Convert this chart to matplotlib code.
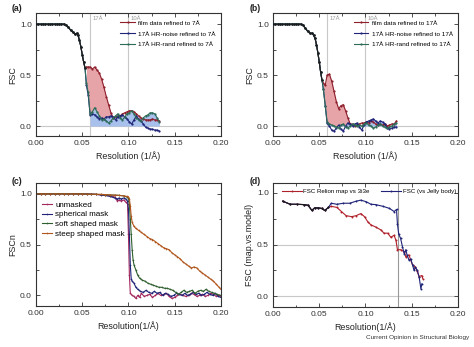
import numpy as np
import matplotlib
matplotlib.use("Agg")
import matplotlib.pyplot as plt
from matplotlib.ticker import MultipleLocator, FormatStrFormatter

plt.rcParams['font.family'] = ['Liberation Sans', 'DejaVu Sans']

# ---------------- Panel (a) / (b) data ----------------
common_x_a = [0.0, 0.0025, 0.005, 0.0075, 0.01, 0.0125, 0.015, 0.0175, 0.02, 0.0225, 0.025, 0.0275, 0.03,
              0.0325, 0.035, 0.0375, 0.04, 0.0425, 0.044, 0.0455, 0.047, 0.0485, 0.05, 0.0515, 0.053]
common_y_a = [1.0, 1.0, 1.0, 1.0, 1.0, 1.0, 1.0, 1.0, 1.0, 1.0, 1.0, 1.0, 1.0,
              0.99, 0.97, 0.94, 0.92, 0.90, 0.91, 0.89, 0.84, 0.78, 0.70, 0.63, 0.57]
common_y_b = [1.0, 1.0, 1.0, 1.0, 1.0, 1.0, 1.0, 1.0, 1.0, 1.0, 1.0, 1.0, 1.0,
              0.99, 0.96, 0.93, 0.91, 0.91, 0.89, 0.86, 0.80, 0.72, 0.63, 0.53, 0.45]

tail_x = [0.0545, 0.0565, 0.0585, 0.061, 0.0635, 0.066, 0.0685, 0.071, 0.0735, 0.076, 0.0785, 0.081,
          0.0835, 0.086, 0.0885, 0.091, 0.0935, 0.096, 0.0985, 0.101, 0.1035, 0.106, 0.1085, 0.111,
          0.1135, 0.116, 0.1185, 0.121, 0.1235, 0.126, 0.1285, 0.131, 0.1335]

film_a = [0.58, 0.58, 0.58, 0.56, 0.58, 0.55, 0.52, 0.46, 0.38, 0.29, 0.21, 0.13, 0.08, 0.09, 0.10, 0.10,
          0.12, 0.13, 0.14, 0.15, 0.15, 0.14, 0.12, 0.10, 0.08, 0.07, 0.06, 0.06, 0.06, 0.07, 0.06, 0.06, 0.05]
noise_a = [0.40, 0.30, 0.11, 0.12, 0.11, 0.09, 0.07, 0.08, 0.07, 0.09, 0.09, 0.10, 0.09, 0.06, 0.09, 0.10,
           0.11, 0.09, 0.07, 0.04, 0.02, 0.06, 0.10, 0.07, 0.05, 0.02, -0.01, -0.02, -0.03, -0.03, -0.04, -0.04, -0.05]
rand_a = [0.42, 0.33, 0.12, 0.14, 0.18, 0.14, 0.10, 0.06, 0.07, 0.05, 0.03, 0.05, 0.08, 0.10, 0.12, 0.08,
          0.06, 0.09, 0.12, 0.13, 0.15, 0.12, 0.08, 0.06, 0.05, 0.08, 0.10, 0.11, 0.13, 0.13, 0.12, 0.08, 0.04]

film_b = [0.42, 0.40, 0.50, 0.51, 0.44, 0.34, 0.24, 0.17, 0.20, 0.21, 0.15, 0.08, 0.02, 0.02, 0.00, 0.01,
          0.02, 0.03, 0.03, 0.04, 0.03, 0.05, 0.04, 0.02, 0.01, 0.02, 0.01, 0.02, 0.00, 0.01, 0.02, 0.02, 0.05]
noise_b = [0.36, 0.20, 0.03, 0.00, -0.04, -0.05, -0.02, 0.01, -0.03, -0.05, 0.00, 0.03, 0.02, 0.00, 0.02, 0.03,
           -0.01, -0.04, 0.01, 0.04, 0.05, 0.06, 0.07, 0.05, 0.03, 0.05, 0.04, 0.02, -0.02, -0.03, -0.02, -0.01, -0.01]
rand_b = [0.36, 0.20, 0.04, 0.02, 0.01, 0.00, -0.01, -0.02, 0.01, 0.02, -0.01, -0.02, 0.00, 0.02, 0.01, 0.00,
          0.01, 0.00, 0.02, 0.03, 0.01, 0.00, -0.02, -0.01, 0.01, 0.02, 0.00, -0.01, -0.02, -0.01, 0.00, 0.02, 0.03]

labels_a = ["film data refined to 7Å", "17Å HR-noise refined to 7Å", "17Å HR-rand refined to 7Å"]
labels_b = ["film data refined to 17Å", "17Å HR-noise refined to 17Å", "17Å HR-rand refined to 17Å"]

# ---------------- Panel (c) data ----------------
pre_x_c = [0.0, 0.005, 0.01, 0.015, 0.02, 0.025, 0.03, 0.035, 0.04, 0.045, 0.05, 0.055, 0.06]
pre_y_c = [1.0, 1.0, 1.0, 1.0, 1.0, 1.0, 1.0, 1.0, 1.0, 1.0, 1.0, 0.998, 0.997]

steep_x = [0.065, 0.07, 0.075, 0.08, 0.085, 0.09, 0.095, 0.098, 0.1, 0.101, 0.102, 0.103, 0.104, 0.106, 0.108,
           0.111, 0.114, 0.117, 0.12, 0.123, 0.126, 0.129, 0.132, 0.135, 0.138, 0.141, 0.144, 0.147, 0.15,
           0.153, 0.156, 0.159, 0.162, 0.165, 0.168, 0.171, 0.174, 0.177, 0.18, 0.183, 0.186, 0.189, 0.192,
           0.195, 0.198, 0.2]
steep_y = [0.996, 0.995, 0.993, 0.99, 0.988, 0.985, 0.98, 0.975, 0.97, 0.95, 0.88, 0.78, 0.72, 0.68, 0.66,
           0.64, 0.62, 0.60, 0.58, 0.56, 0.55, 0.53, 0.51, 0.49, 0.47, 0.46, 0.45, 0.42, 0.40,
           0.38, 0.36, 0.33, 0.31, 0.29, 0.27, 0.28, 0.27, 0.24, 0.22, 0.20, 0.18, 0.16, 0.14,
           0.11, 0.08, 0.06]

soft_x = [0.065, 0.07, 0.075, 0.08, 0.085, 0.09, 0.095, 0.098, 0.1, 0.101, 0.102, 0.103, 0.104, 0.105, 0.106,
          0.108, 0.11, 0.112, 0.115, 0.118, 0.121, 0.124, 0.127, 0.13, 0.133, 0.136, 0.139, 0.142, 0.145,
          0.148, 0.151, 0.154, 0.157, 0.16, 0.163, 0.166, 0.169, 0.172, 0.175, 0.178, 0.181, 0.184, 0.187,
          0.19, 0.193, 0.196, 0.2]
soft_y = [0.995, 0.994, 0.992, 0.99, 0.987, 0.985, 0.98, 0.97, 0.96, 0.90, 0.75, 0.60, 0.45, 0.35, 0.30,
          0.25, 0.20, 0.17, 0.15, 0.14, 0.12, 0.11, 0.10, 0.09, 0.08, 0.08, 0.07, 0.07, 0.06,
          0.05, 0.03, 0.01, 0.03, 0.05, 0.03, 0.04, 0.05, 0.02, 0.04, 0.05, 0.04, 0.06, 0.04,
          0.03, 0.02, 0.01, 0.00]

sph_x = [0.065, 0.07, 0.075, 0.08, 0.085, 0.088, 0.09, 0.092, 0.095, 0.097, 0.099, 0.1, 0.101, 0.102, 0.103,
         0.104, 0.106, 0.108, 0.11, 0.113, 0.116, 0.119, 0.122, 0.125, 0.128, 0.131, 0.134, 0.137, 0.14,
         0.143, 0.146, 0.149, 0.152, 0.155, 0.158, 0.161, 0.164, 0.167, 0.17, 0.173, 0.176, 0.179, 0.182,
         0.185, 0.188, 0.191, 0.194, 0.197, 0.2]
sph_y = [0.995, 0.99, 0.985, 0.975, 0.96, 0.95, 0.96, 0.95, 0.96, 0.95, 0.93, 0.85, 0.60, 0.30, 0.16,
         0.14, 0.12, 0.08, 0.06, 0.04, 0.03, 0.05, 0.03, 0.02, 0.04, 0.02, 0.03, 0.00, 0.02,
         0.01, -0.01, 0.00, 0.02, 0.01, 0.00, 0.02, 0.00, 0.01, 0.03, 0.01, 0.02, 0.00, 0.01,
         0.03, 0.01, 0.00, 0.02, -0.01, -0.02]

unm_x = [0.065, 0.07, 0.075, 0.08, 0.085, 0.088, 0.09, 0.092, 0.095, 0.097, 0.099, 0.1, 0.101, 0.102, 0.104,
         0.106, 0.108, 0.11, 0.112, 0.114, 0.117, 0.12, 0.123, 0.126, 0.129, 0.132, 0.135, 0.138, 0.141,
         0.144, 0.147, 0.15, 0.153, 0.156, 0.159, 0.162, 0.165, 0.168, 0.171, 0.174, 0.177, 0.18, 0.183,
         0.186, 0.189, 0.192, 0.195, 0.198, 0.2]
unm_y = [0.995, 0.99, 0.985, 0.98, 0.97, 0.93, 0.94, 0.93, 0.94, 0.92, 0.90, 0.60, 0.20, 0.02, 0.00,
         -0.01, -0.03, 0.00, -0.02, 0.02, -0.01, 0.00, 0.01, -0.02, 0.00, 0.02, 0.00, 0.01, 0.02,
         -0.01, -0.03, -0.02, 0.00, 0.01, 0.00, -0.01, 0.00, 0.02, 0.01, -0.01, 0.00, 0.01, -0.01,
         0.00, 0.02, 0.01, -0.01, 0.00, -0.01]

labels_c = ["unmasked", "spherical mask", "soft shaped mask", "steep shaped mask"]

# ---------------- Panel (d) data ----------------
common_x_d = [0.0104, 0.0186, 0.0257, 0.033, 0.038, 0.042, 0.045, 0.049, 0.0525, 0.056, 0.06]
common_y_d = [0.92, 0.89, 0.89, 0.887, 0.88, 0.83, 0.855, 0.855, 0.85, 0.83, 0.86]

jelly_x = [0.063, 0.069, 0.076, 0.083, 0.09, 0.095, 0.1007, 0.106, 0.111, 0.119, 0.126, 0.131, 0.1336,
           0.1346, 0.136, 0.138, 0.14, 0.142, 0.1436, 0.145, 0.147, 0.149, 0.151, 0.1525, 0.154, 0.156,
           0.158, 0.16, 0.161]
jelly_y = [0.90, 0.89, 0.90, 0.90, 0.92, 0.93, 0.915, 0.89, 0.887, 0.87, 0.85, 0.82, 0.84,
           0.70, 0.60, 0.56, 0.48, 0.41, 0.45, 0.40, 0.35, 0.36, 0.30, 0.25, 0.28, 0.25,
           0.19, 0.07, 0.12]

relion_x = [0.063, 0.069, 0.074, 0.079, 0.085, 0.09, 0.095, 0.099, 0.1025, 0.106, 0.111, 0.117, 0.12,
            0.124, 0.1275, 0.131, 0.133, 0.1346, 0.138, 0.142, 0.1436, 0.147, 0.151, 0.154, 0.156,
            0.158, 0.161, 0.162]
relion_y = [0.87, 0.86, 0.82, 0.78, 0.77, 0.78, 0.80, 0.77, 0.72, 0.69, 0.67, 0.64, 0.61,
            0.61, 0.57, 0.59, 0.54, 0.45, 0.45, 0.43, 0.38, 0.40, 0.30, 0.28, 0.24,
            0.19, 0.20, 0.17]

labels_d = ["FSC Relion map vs 3i3e", "FSC (vs Jelly body)"]

# ---------------- styling ----------------
C_RED = '#8e1f2c'
C_NAVY = '#1f2478'
C_TEAL = '#2c6b58'
C_MAG = '#a3285e'
C_GREEN = '#2f5e2f'
C_ORANGE = '#b0551c'
C_BLACK = '#1c1c1c'
PINK = '#e7a4a8'
LBLUE = '#a7c0ec'
GRID = '#c8c8c8'

TICK_FS = 6.0
LAB_FS = 6.4
LW = 0.8
MS = 1.6

fig = plt.figure(figsize=(4.74, 3.47), dpi=100)
ax_a = fig.add_axes([0.076, 0.608, 0.390, 0.354])
ax_b = fig.add_axes([0.576, 0.608, 0.390, 0.354])
ax_c = fig.add_axes([0.076, 0.118, 0.390, 0.354])
ax_d = fig.add_axes([0.576, 0.115, 0.390, 0.357])


def style(ax, ylabel, xlabel, ylim):
    ax.set_xlim(0, 0.2)
    ax.set_ylim(*ylim)
    ax.xaxis.set_major_locator(MultipleLocator(0.05))
    ax.xaxis.set_minor_locator(MultipleLocator(0.025))
    ax.yaxis.set_major_locator(MultipleLocator(0.5))
    ax.yaxis.set_minor_locator(MultipleLocator(0.25))
    ax.xaxis.set_major_formatter(FormatStrFormatter('%.2f'))
    ax.yaxis.set_major_formatter(FormatStrFormatter('%.1f'))
    ax.tick_params(which='both', direction='in', top=True, right=True, labelsize=TICK_FS,
                   colors='#333333', width=0.6, pad=3)
    ax.tick_params(which='major', length=3)
    ax.tick_params(which='minor', length=1.8)
    for s in ax.spines.values():
        s.set_linewidth(0.8)
        s.set_color('#333333')
    ax.set_xlabel(xlabel, fontsize=LAB_FS, labelpad=3, color='#222222')
    ax.set_ylabel(ylabel, fontsize=LAB_FS, labelpad=2, color='#222222')


def plot_ab(ax, cy, film, noise, rand, labels, redmax):
    cx = np.array(common_x_a)
    cy = np.array(cy)
    tx = np.array(tail_x)
    film = np.array(film); noise = np.array(noise); rand = np.array(rand)
    lower = np.maximum(noise, rand)
    ax.axhline(0, color=GRID, lw=0.8, zorder=0)
    ax.axvline(1 / 17, color=GRID, lw=0.8, zorder=0)
    ax.axvline(0.1, color=GRID, lw=0.8, zorder=0)
    ax.text(1 / 17 + 0.002, 1.055, "17Å", fontsize=4.2, color='#999999', va='center')
    ax.text(0.1 + 0.002, 1.055, "10Å", fontsize=4.2, color='#999999', va='center')
    sel = tx >= 0.058
    ax.fill_between(tx[sel], 0, np.clip(lower[sel], 0, None), color=LBLUE, lw=0, zorder=1)
    selr = tx <= redmax
    ax.fill_between(tx[selr], lower[selr], film[selr], where=film[selr] > lower[selr],
                    interpolate=True, color=PINK, lw=0, zorder=1)
    kw = dict(lw=LW, marker='o', ms=MS, mew=0, zorder=3)
    ax.plot(np.r_[cx, tx], np.r_[cy, film], color=C_RED, label=labels[0], **kw)
    ax.plot(np.r_[cx, tx], np.r_[cy, noise], color=C_NAVY, label=labels[1], **kw)
    ax.plot(np.r_[cx, tx], np.r_[cy, rand], color=C_TEAL, label=labels[2], **kw)
    ax.plot(cx, cy, color=C_BLACK, lw=LW, marker='o', ms=MS, mew=0, zorder=4)
    ax.legend(loc='upper right', bbox_to_anchor=(1.0, 0.985), fontsize=4.6, frameon=False,
              handlelength=2.3, handletextpad=0.5, labelspacing=0.85, borderaxespad=0.4)
    style(ax, 'FSC', 'Resolution (1/Å)', (-0.098, 1.108))


plot_ab(ax_a, common_y_a, film_a, noise_a, rand_a, labels_a, 0.0865)
plot_ab(ax_b, common_y_b, film_b, noise_b, rand_b, labels_b, 0.0865)

# panel c
kw = dict(lw=LW, marker='o', ms=1.2, mew=0)
pcx = np.array(pre_x_c); pcy = np.array(pre_y_c)
ax_c.plot(np.r_[pcx, unm_x], np.r_[pcy, unm_y], color=C_MAG, label=labels_c[0], **kw)
ax_c.plot(np.r_[pcx, sph_x], np.r_[pcy, sph_y], color=C_NAVY, label=labels_c[1], **kw)
ax_c.plot(np.r_[pcx, soft_x], np.r_[pcy, soft_y], color=C_GREEN, label=labels_c[2], **kw)
ax_c.plot(np.r_[pcx, steep_x], np.r_[pcy, steep_y], color=C_ORANGE, label=labels_c[3], **kw)
ax_c.legend(loc='upper left', bbox_to_anchor=(0.0, 0.9), fontsize=5.8, frameon=False,
            handlelength=1.3, handletextpad=0.4, labelspacing=0.25, borderaxespad=0.3)
style(ax_c, 'FSCn', 'Resolution(1/Å)', (-0.105, 1.105))

# panel d
ax_d.axhline(0, color=GRID, lw=0.8, zorder=0)
ax_d.axhline(0.5, color=GRID, lw=0.8, zorder=0)
ax_d.axvline(0.135, color='#999999', lw=0.8, zorder=0)
cdx = np.array(common_x_d); cdy = np.array(common_y_d)
kw = dict(lw=LW, marker='o', ms=1.4, mew=0)
ax_d.plot(np.r_[cdx, relion_x], np.r_[cdy, relion_y], color='#b0202a', label=labels_d[0], zorder=2, **kw)
ax_d.plot(np.r_[cdx, jelly_x], np.r_[cdy, jelly_y], color=C_NAVY, label=labels_d[1], zorder=3, **kw)
ax_d.plot(cdx, cdy, color=C_BLACK, zorder=4, **kw)
ax_d.legend(loc='upper center', bbox_to_anchor=(0.52, 1.0), ncol=2, fontsize=4.4, frameon=False,
            handlelength=3.2, handletextpad=0.3, columnspacing=1.9, borderaxespad=0.45)
style(ax_d, 'FSC (map.vs.model)', 'Resolution(1/Å)', (-0.106, 1.094))

for x, y, t in [(0.025, 0.975, '(a)'), (0.527, 0.975, '(b)'), (0.025, 0.478, '(c)'), (0.527, 0.478, '(d)')]:
    fig.text(x, y, t, fontsize=6.3, fontweight='bold', ha='left', va='center', color='#222222')

fig.text(0.99, 0.028, 'Current Opinion in Structural Biology', fontsize=4.6, ha='right', va='center',
         color='#333333')

fig.savefig('out.png', dpi=100)
